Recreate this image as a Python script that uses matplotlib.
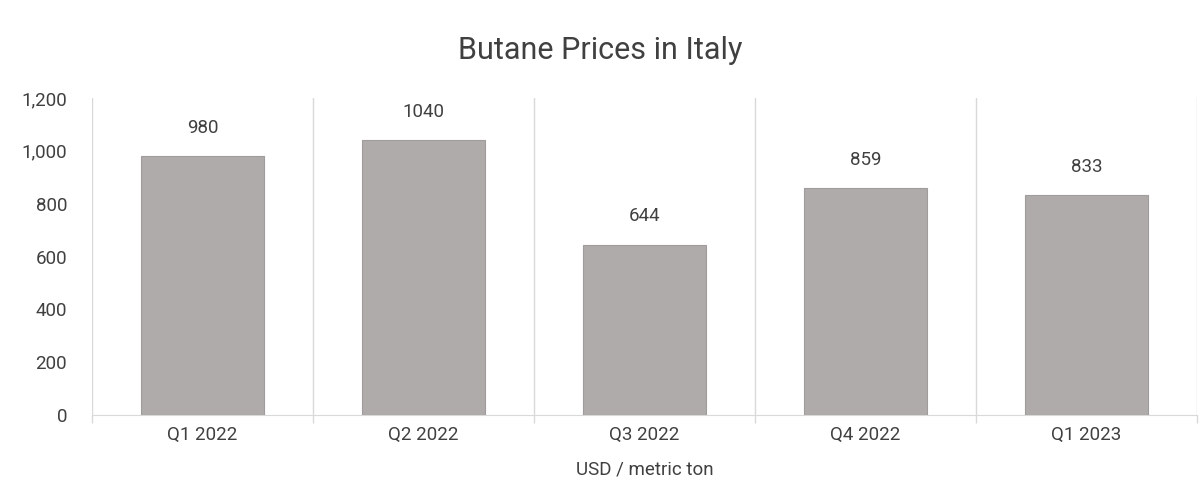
import matplotlib.pyplot as plt
import numpy as np

quarters = ["Q1 2022", "Q2 2022", "Q3 2022", "Q4 2022", "Q1 2023"]
prices = [980, 1040, 644, 859, 833]
yticks = [0, 200, 400, 600, 800, 1000, 1200]

plt.rcParams['font.family'] = ['Roboto', 'DejaVu Sans']
txt = '#404040'
grid = '#d9d9d9'

fig = plt.figure(figsize=(12, 4.92), dpi=100)
ax = fig.add_axes([0.0767, 0.1565, 0.9208, 0.6443])

x = np.arange(len(quarters))
bars = ax.bar(x, prices, width=0.56, color='#afabab', edgecolor='#a09c9c', linewidth=0.8, zorder=3)

# labels above the bars
for xi, v in zip(x, prices):
    ax.annotate(str(v), (xi, v), xytext=(0, 14), textcoords='offset points',
                ha='center', va='bottom', fontsize=13.5, color=txt)

ax.set_xlim(-0.5, len(quarters) - 0.5)
ax.set_ylim(0, 1200)
ax.set_yticks(yticks)
ax.set_yticklabels([f"{t:,}" for t in yticks])
ax.set_xticks(x)
ax.set_xticklabels(quarters)
ax.set_xticks(np.arange(len(quarters) + 1) - 0.5, minor=True)
ax.grid(True, which='minor', axis='x', color=grid, linewidth=1, zorder=0)
ax.tick_params(axis='x', which='major', length=0, labelsize=13.5, labelcolor=txt, pad=8)
ax.tick_params(axis='x', which='minor', length=6, color=grid, width=1)
ax.tick_params(axis='y', length=0, labelsize=13.5, labelcolor=txt, pad=18)

for s in ['top', 'right', 'left']:
    ax.spines[s].set_visible(False)
ax.spines['bottom'].set_color(grid)

ax.set_xlabel('USD / metric ton', fontsize=13.5, color=txt, labelpad=12)
fig.text(0.5, 0.897, 'Butane Prices in Italy', ha='center', va='center', fontsize=22, color=txt)

fig.savefig('out.png', dpi=100)
